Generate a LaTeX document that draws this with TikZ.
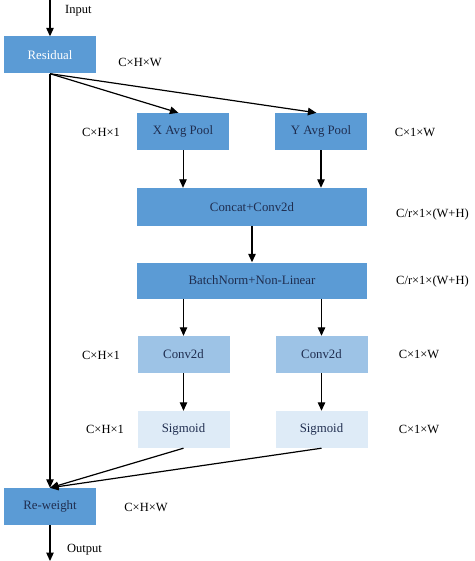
\documentclass[tikz,border=0pt]{standalone}
\usepackage{fontspec}
\setmainfont{Liberation Serif}
\usetikzlibrary{arrows.meta,calc}
\definecolor{boxblue}{HTML}{5B9BD5}
\definecolor{midblue}{HTML}{9DC3E6}
\definecolor{paleblue}{HTML}{DEEBF7}
\definecolor{navytext}{HTML}{1F2D4F}
\begin{document}
\begin{tikzpicture}[x=1pt,y=-1pt,
  blk/.style={rectangle, inner sep=0pt, minimum width=92pt, minimum height=37pt, text=navytext, font=\fontsize{12.8}{14}\selectfont},
  dark/.style={blk, fill=boxblue},
  mid/.style={blk, fill=midblue},
  pale/.style={blk, fill=paleblue},
  dim/.style={font=\fontsize{12.5}{14}\selectfont, inner sep=0pt, text=black},
  arr/.style={line width=1.2pt, -{Triangle[length=8.5pt,width=7.5pt]}}
]
\useasboundingbox (0,0) rectangle (474,561);
\coordinate (in) at (50,0);
\coordinate (out) at (50,561);
\node[dark, text=white] (res) at (50,55) {Residual};
\node[dark] (xp) at (183,131.5) {X Avg Pool};
\node[dark] (yp) at (321,131.5) {Y Avg Pool};
\node[dark, minimum width=230pt, minimum height=38pt] (cc) at (252,207) {Concat+Conv2d};
\node[dark, minimum width=230pt, minimum height=36pt] (bn) at (252,280.5) {BatchNorm+Non-Linear};
\node[mid] (c1) at (183.5,354.5) {Conv2d};
\node[mid] (c2) at (321.5,354.5) {Conv2d};
\node[pale] (s1) at (183.5,429.5) {Sigmoid};
\node[pale] (s2) at (321.5,429.5) {Sigmoid};
\node[dark] (rw) at (50,506.5) {Re-weight};
% labels
\node[dim, anchor=west] (lin) at (65,11) {Input};
\node[dim, anchor=west] (lout) at (67,550) {Output};
\node[dim] (lres) at (140,62) {C×H×W};
\node[dim] (lxp) at (101,132) {C×H×1};
\node[dim] (lyp) at (415,132) {C×1×W};
\node[dim, anchor=west] (lcc) at (396,214) {C/r×1×(W+H)};
\node[dim, anchor=west] (lbn) at (396,281) {C/r×1×(W+H)};
\node[dim] (lc1) at (101,355) {C×H×1};
\node[dim] (lc2) at (419,354) {C×1×W};
\node[dim] (ls1) at (105,429) {C×H×1};
\node[dim] (ls2) at (419,429) {C×1×W};
\node[dim] (lrw) at (146,507) {C×H×W};
% connectors
\draw[arr] (in) -- (res.north);
\draw[arr] (rw.south) -- (out);
\draw[arr] (res.south) -- (rw.north);
\draw[arr] (res.south) -- ($(xp.north west)!0.45!(xp.north east)$);
\draw[arr] (res.south) -- ($(yp.north west)!0.45!(yp.north east)$);
\draw[arr, line width=0.9pt] (xp.south) -- (xp.south |- cc.north);
\draw[arr] (yp.south) -- (yp.south |- cc.north);
\draw[arr] (cc.south) -- (bn.north);
\draw[arr, line width=0.9pt] (bn.south -| c1.north) -- (c1.north);
\draw[arr] (bn.south -| c2.north) -- (c2.north);
\draw[arr, line width=0.9pt] (c1.south) -- (s1.north);
\draw[arr] (c2.south) -- (s2.north);
\draw[arr] (s1.south) -- (rw.north);
\draw[arr] (s2.south) -- (rw.north);
\end{tikzpicture}
\end{document}
